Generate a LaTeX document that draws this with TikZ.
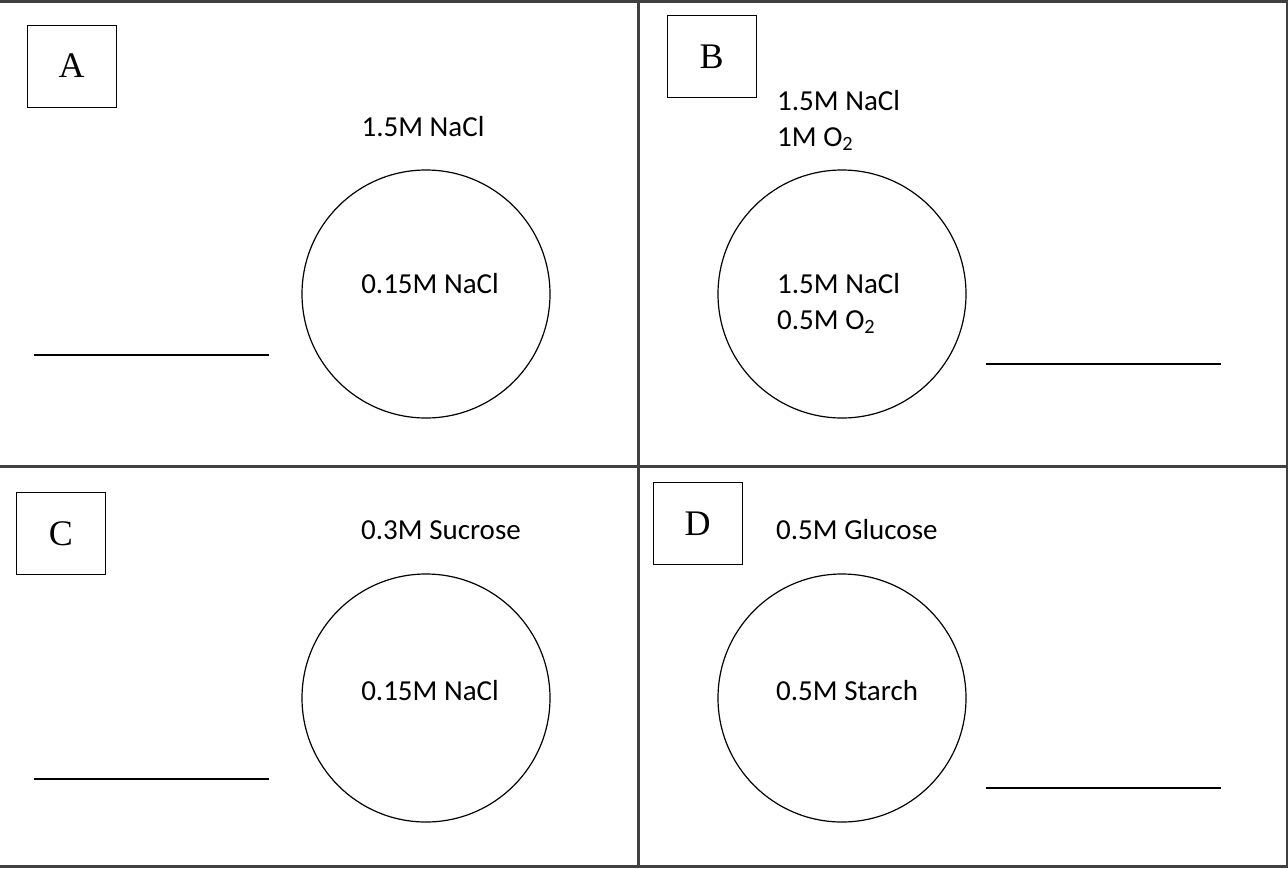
\documentclass[tikz,border=0pt]{standalone}
\usepackage{fontspec}
\setmainfont{Liberation Serif}
\newfontfamily\lab{Carlito}
\begin{document}
\begin{tikzpicture}[x=1pt,y=-1pt,
 frame/.style={line width=3pt,draw=black!75},
 lbox/.style={draw,line width=1pt,minimum width=89pt,minimum height=82pt,font=\fontsize{36}{36}\selectfont},
 cell/.style={draw,line width=1.2pt,circle,minimum size=248pt,inner sep=0pt},
 txt/.style={font=\lab\fontsize{29}{34}\selectfont,inner sep=0pt},
 blank/.style={line width=1.2pt}]
\useasboundingbox (0,0) rectangle (1288,868);
\draw[frame] (0,1) -- (1288,1);
\draw[frame] (0,866) -- (1288,866);
\draw[frame] (1287,0) -- (1287,868);
\draw[frame] (638,0) -- (638,868);
\draw[frame] (0,466) -- (1288,466);
\node[lbox] (A) at (71.5,66) {A};
\node[lbox] (B) at (711.5,56.5) {B};
\node[lbox] (C) at (61,533.5) {C};
\node[lbox] (D) at (697.5,523.5) {D};
\node[cell] (cA) at (426,294) {};
\node[cell] (cB) at (842,294) {};
\node[cell] (cC) at (426,698) {};
\node[cell] (cD) at (842,698) {};
\coordinate (a1) at (34,355); \coordinate (a2) at (269,355);
\coordinate (b1) at (986,364); \coordinate (b2) at (1221,364);
\coordinate (c1) at (34,779); \coordinate (c2) at (269,779);
\coordinate (d1) at (986,788); \coordinate (d2) at (1221,788);
\draw[blank] (a1) -- (a2); \draw[blank] (b1) -- (b2);
\draw[blank] (c1) -- (c2); \draw[blank] (d1) -- (d2);
\node[txt] (tA) at (423,127) {1.5M NaCl};
\node[txt] (iA) at (430,284) {0.15M NaCl};
\node[txt,anchor=west] (tB1) at (777,101) {1.5M NaCl};
\node[txt,anchor=west] (tB2) at (777,139) {1M O\textsubscript{2}};
\node[txt,anchor=west] (iB1) at (777,284) {1.5M NaCl};
\node[txt,anchor=west] (iB2) at (777,322) {0.5M O\textsubscript{2}};
\node[txt] (tC) at (441,530) {0.3M Sucrose};
\node[txt] (iC) at (430,691) {0.15M NaCl};
\node[txt,anchor=west] (tD) at (776,530) {0.5M Glucose};
\node[txt,anchor=west] (iD) at (776,691) {0.5M Starch};
\end{tikzpicture}
\end{document}
